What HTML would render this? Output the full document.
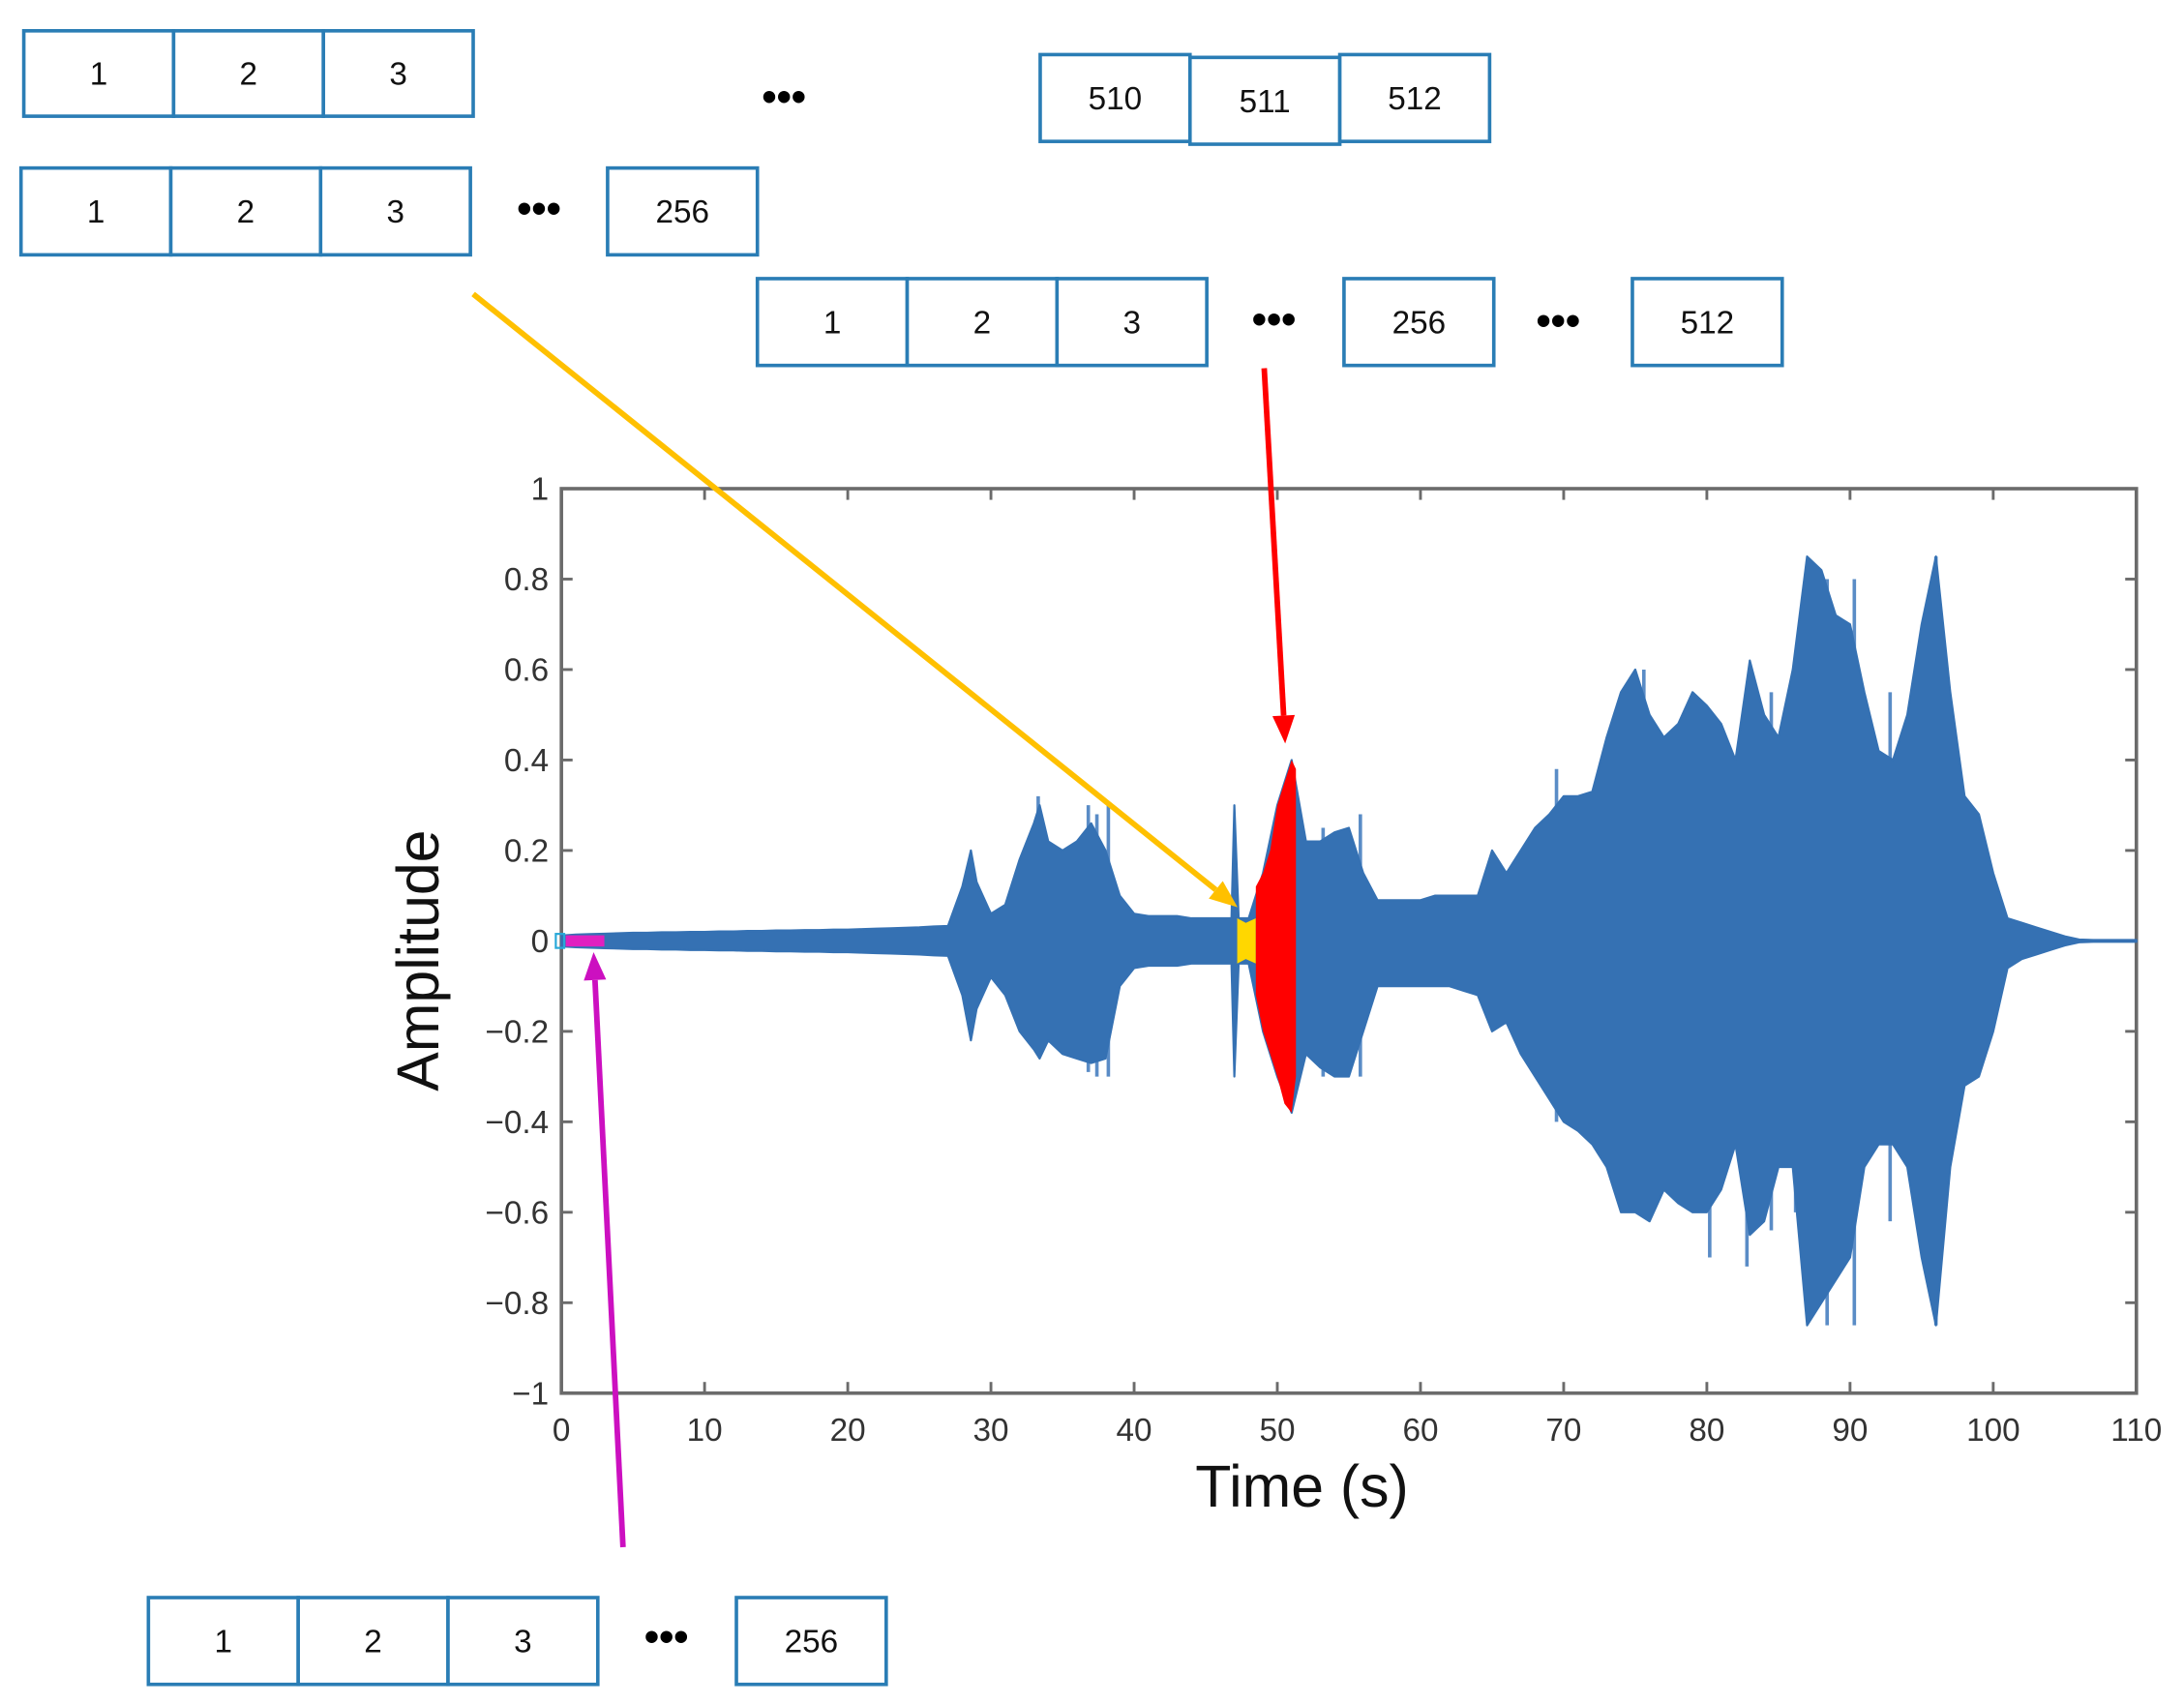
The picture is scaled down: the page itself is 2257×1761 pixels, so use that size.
<!DOCTYPE html>
<html><head><meta charset="utf-8"><style>
html,body{margin:0;padding:0;background:#fff;}
svg{display:block;}
text{font-family:"Liberation Sans",sans-serif;}
</style></head><body>
<svg id="fig" width="2257" height="1761" viewBox="0 0 1560 1217" preserveAspectRatio="none" xmlns="http://www.w3.org/2000/svg">
<g id="boxes"></g>
<g id="plot"></g>
<g id="arrows"></g>
</svg>
<script>
// ---- chart data ----
const envTimes = [0,1,2,3,4,5,6,7,8,9,10,11,12,13,14,15,16,17,18,19,20,21,22,23,24,25,26,27,28,28.6,29,30,31,32,33,33.4,34,35,36,37,38,39,40,41,42,43,44,45,46,46.8,47,47.3,48,49,50,51,52,53,54,55,56,57,58,59,60,61,62,63,64,65,66,67,68,69,70,71,72,73,74,75,76,77,78,79,80,81,82,83,84,85,86,87,88,89,90,91,92,93,94,95,96,97,98,99,100,101,102,103,104,105,106,107,108,109,110];
const envUpper = [0.012,0.014,0.015,0.016,0.017,0.018,0.018,0.019,0.019,0.02,0.02,0.021,0.021,0.022,0.022,0.023,0.023,0.024,0.024,0.025,0.025,0.026,0.027,0.028,0.029,0.03,0.032,0.033,0.12,0.2,0.13,0.06,0.08,0.18,0.26,0.3,0.22,0.2,0.22,0.26,0.2,0.1,0.06,0.055,0.055,0.055,0.05,0.05,0.05,0.05,0.3,0.05,0.05,0.15,0.3,0.4,0.22,0.22,0.24,0.25,0.15,0.09,0.09,0.09,0.09,0.1,0.1,0.1,0.1,0.2,0.15,0.2,0.25,0.28,0.32,0.32,0.33,0.45,0.55,0.6,0.5,0.45,0.48,0.55,0.52,0.48,0.4,0.62,0.5,0.45,0.6,0.85,0.82,0.72,0.7,0.55,0.42,0.4,0.5,0.7,0.85,0.55,0.32,0.28,0.15,0.05,0.04,0.03,0.02,0.01,0.003,0.002,0.002,0.002,0.002];
const envLower = [-0.012,-0.014,-0.015,-0.016,-0.017,-0.018,-0.018,-0.019,-0.019,-0.02,-0.02,-0.021,-0.021,-0.022,-0.022,-0.023,-0.023,-0.024,-0.024,-0.025,-0.025,-0.026,-0.027,-0.028,-0.029,-0.03,-0.032,-0.033,-0.12,-0.22,-0.15,-0.08,-0.12,-0.2,-0.24,-0.26,-0.22,-0.25,-0.26,-0.27,-0.26,-0.1,-0.06,-0.055,-0.055,-0.055,-0.05,-0.05,-0.05,-0.05,-0.3,-0.05,-0.05,-0.2,-0.3,-0.38,-0.25,-0.28,-0.3,-0.3,-0.2,-0.1,-0.1,-0.1,-0.1,-0.1,-0.1,-0.11,-0.12,-0.2,-0.18,-0.25,-0.3,-0.35,-0.4,-0.42,-0.45,-0.5,-0.6,-0.6,-0.62,-0.55,-0.58,-0.6,-0.6,-0.55,-0.45,-0.65,-0.62,-0.5,-0.5,-0.85,-0.8,-0.75,-0.7,-0.5,-0.45,-0.45,-0.5,-0.7,-0.85,-0.5,-0.32,-0.3,-0.2,-0.06,-0.04,-0.03,-0.02,-0.01,-0.003,-0.002,-0.002,-0.002,-0.002];
const spikeTimes = [33.3,36.8,37.4,38.2,53.2,55.8,69.5,74.2,75.6,80.2,82.8,84.5,86.2,88.4,90.3,92.8,96.0];
const spikeUpper = [0.32,0.3,0.28,0.3,0.25,0.28,0.38,0.52,0.6,0.5,0.55,0.55,0.6,0.8,0.8,0.55,0.85];
const spikeLower = [-0.25,-0.29,-0.3,-0.3,-0.3,-0.3,-0.4,-0.52,-0.6,-0.7,-0.72,-0.64,-0.6,-0.85,-0.85,-0.62,-0.85];
const redTimes = [48.5,49,49.5,50,50.5,51,51.3];
const redUpper = [0.12,0.15,0.2,0.3,0.35,0.4,0.38];
const redLower = [-0.12,-0.2,-0.25,-0.3,-0.36,-0.38,-0.3];
const yellowTimes = [47.2,47.8,48.5];
const yellowUpper = [0.05,0.04,0.05];
const yellowLower = [-0.05,-0.04,-0.05];
const magentaTimes = [0.3,3];
const xTicks = [0,10,20,30,40,50,60,70,80,90,100,110];
const xTickLabels = ["0","10","20","30","40","50","60","70","80","90","100","110"];
const yTicks = [1,0.8,0.6,0.4,0.2,0,-0.2,-0.4,-0.6,-0.8,-1];
const yTickLabels = ["1","0.8","0.6","0.4","0.2","0","\u22120.2","\u22120.4","\u22120.6","\u22120.8","\u22121"];

const NS="http://www.w3.org/2000/svg";
const X0=401,X1=1526,YT=349,YB=995;
function xs(t){return X0+(t/110)*(X1-X0);}
function ys(v){return (YT+YB)/2 - v*(YB-YT)/2;}
function mk(tag,attrs,parent){const e=document.createElementNS(NS,tag);for(const k in attrs)e.setAttribute(k,attrs[k]);parent.appendChild(e);return e;}
function envPath(ts,up,lo){let d="M"+xs(ts[0])+","+ys(up[0]);for(let i=1;i<ts.length;i++)d+="L"+xs(ts[i])+","+ys(up[i]);for(let i=ts.length-1;i>=0;i--)d+="L"+xs(ts[i])+","+ys(lo[i]);return d+"Z";}

const plot=document.getElementById('plot');
let fr=mk('rect',{x:X0,y:YT,width:X1-X0,height:YB-YT,fill:'none',stroke:'#6b6b6b','stroke-width':2.5},plot);


xTicks.forEach((t,i)=>{
  mk('line',{x1:xs(t),x2:xs(t),y1:YB,y2:YB-8,stroke:'#6b6b6b','stroke-width':2},plot);
  mk('line',{x1:xs(t),x2:xs(t),y1:YT,y2:YT+8,stroke:'#6b6b6b','stroke-width':2},plot);
  const tx=mk('text',{x:xs(t),y:1029,'text-anchor':'middle','font-size':23,fill:'#333'},plot);
  tx.textContent=xTickLabels[i];
  
  
});
yTicks.forEach((v,i)=>{
  mk('line',{x1:X0,x2:X0+8,y1:ys(v),y2:ys(v),stroke:'#6b6b6b','stroke-width':2},plot);
  mk('line',{x1:X1,x2:X1-8,y1:ys(v),y2:ys(v),stroke:'#6b6b6b','stroke-width':2},plot);
  const tx=mk('text',{x:392,y:ys(v)+8,'text-anchor':'end','font-size':23,fill:'#333'},plot);
  tx.textContent=yTickLabels[i];
  
  
});
spikeTimes.forEach((t,i)=>{
  const l=mk('line',{x1:xs(t),x2:xs(t),y1:ys(spikeUpper[i]),y2:ys(spikeLower[i]),stroke:'#5a8cc6','stroke-width':2.5},plot);
  
  
});
let w=mk('path',{d:envPath(envTimes,envUpper,envLower),fill:'#3571b3',stroke:'#3571b3','stroke-width':1.5,'stroke-linejoin':'round'},plot);


let y=mk('path',{d:envPath(yellowTimes,yellowUpper,yellowLower),fill:'#ffd700'},plot);


let r=mk('path',{d:envPath(redTimes,redUpper,redLower),fill:'#ff0000'},plot);


let m=mk('rect',{x:xs(magentaTimes[0]),y:ys(0)-4,width:xs(magentaTimes[1])-xs(magentaTimes[0]),height:8,fill:'#e020c0'},plot);


mk('rect',{x:397,y:667,width:6,height:10,fill:'none',stroke:'#27a8d8','stroke-width':1.5},plot);
let xl=mk('text',{x:930,y:1076,'text-anchor':'middle','font-size':42,fill:'#111'},plot);
xl.textContent='Time (s)';


let yl=mk('text',{x:0,y:0,'text-anchor':'middle','font-size':42,fill:'#111',transform:'translate(313,686) rotate(-90)'},plot);
yl.textContent='Amplitude';



const bx=document.getElementById('boxes');
function box(x,y,w,h,label){
  const g=mk('g',{},bx);
  
  
  mk('rect',{x:x,y:y,width:w,height:h,fill:'#fff',stroke:'#2a7db5','stroke-width':2.5},g);
  const t=mk('text',{x:x+w/2,y:y+h/2+8,'text-anchor':'middle','font-size':23,fill:'#111'},g);
  t.textContent=label;
}
function dots(x,y){const t=mk('text',{x:x,y:y,'text-anchor':'middle','font-size':30,'font-weight':'bold',fill:'#000'},bx);t.textContent='\u2022\u2022\u2022';}
[[17,22,'1'],[124,22,'2'],[231,22,'3']].forEach(a=>box(a[0],a[1],107,61,a[2]));
dots(560,79);
[[743,39,'510'],[850,41,'511'],[957,39,'512']].forEach(a=>box(a[0],a[1],107,62,a[2]));
[[15,120,'1'],[122,120,'2'],[229,120,'3'],[434,120,'256']].forEach(a=>box(a[0],a[1],107,62,a[2]));
dots(385,159);
[[541,199,'1'],[648,199,'2'],[755,199,'3'],[960,199,'256'],[1166,199,'512']].forEach(a=>box(a[0],a[1],107,62,a[2]));
dots(910,238);dots(1113,239);
[[106,1141,'1'],[213,1141,'2'],[320,1141,'3'],[526,1141,'256']].forEach(a=>box(a[0],a[1],107,62,a[2]));
dots(476,1179);

const ar=document.getElementById('arrows');
function arrow(x1,y1,x2,y2,col,name){
  const g=mk('g',{},ar);
  
  
  const dx=x2-x1,dy=y2-y1,L=Math.hypot(dx,dy),ux=dx/L,uy=dy/L;
  const hl=20,hw=8;
  const bxp=x2-ux*hl,byp=y2-uy*hl;
  mk('line',{x1:x1,y1:y1,x2:bxp,y2:byp,stroke:col,'stroke-width':4},g);
  mk('polygon',{points:`${x2},${y2} ${bxp-uy*hw},${byp+ux*hw} ${bxp+uy*hw},${byp-ux*hw}`,fill:col},g);
}
arrow(338,210,884,648,'#ffc000','yellow-arrow');
arrow(903,263,918,531,'#ff0000','red-arrow');
arrow(445,1105,424,680,'#cc10c0','magenta-arrow');
</script>
</body></html>
